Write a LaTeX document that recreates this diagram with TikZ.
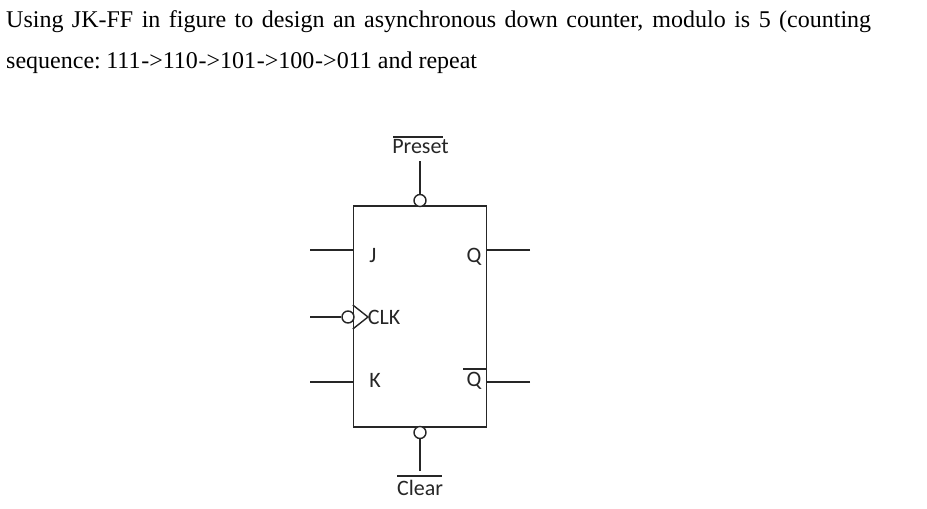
\documentclass[tikz,border=0pt]{standalone}
\usepackage{fontspec}
\setmainfont{Liberation Serif}
\newfontfamily\labelfont{Carlito}
\usetikzlibrary{positioning}
\tikzset{
  wire/.style={line width=1.4pt,black!85},
  ffbox/.style={draw,line width=1.4pt,black!85,minimum width=133pt,minimum height=221pt,inner sep=0pt},
  bubble/.style={draw,circle,line width=1.4pt,black!85,fill=white,minimum size=12pt,inner sep=0pt},
  pinlabel/.style={font=\labelfont\fontsize{22}{22}\selectfont,text=black!85,inner sep=0pt},
  question/.style={font=\fontsize{24}{24}\selectfont,inner sep=0pt,anchor=base west}
}
\begin{document}
\begin{tikzpicture}[x=1pt,y=-1pt]
\useasboundingbox (0,0) rectangle (927,509);
% question text
\node[question] (line1) at (6,27) {\makebox[865pt][s]{Using JK-FF in figure to design an asynchronous down counter, modulo is 5 (counting}};
\node[question] (line2) at (6,68) {sequence:\hspace{5.5pt}111\kern.75pt->110\kern.75pt->101\kern.75pt->100\kern.75pt->011 and repeat};
% flip flop
\node[ffbox] (ff) at (420,316.5) {};
\node[bubble] (presetdot) at (420,200.5) {};
\node[bubble] (cleardot) at (420,432.5) {};
\node[bubble] (clkdot) at (348,317) {};
\coordinate (presetend) at (420,161);
\coordinate (clearend) at (420,471);
\coordinate (jend) at (310,250);
\coordinate (kend) at (310,382);
\coordinate (clkend) at (310,317);
\coordinate (qend) at (530,250);
\coordinate (nqend) at (530,382);
\draw[wire] (presetend) -- (presetdot);
\draw[wire] (clearend) -- (cleardot);
\draw[wire] (jend) -- (jend -| ff.west);
\draw[wire] (kend) -- (kend -| ff.west);
\draw[wire] (clkend) -- (clkdot);
\draw[wire] (qend) -- (qend -| ff.east);
\draw[wire] (nqend) -- (nqend -| ff.east);
% clock triangle
\coordinate (clktip) at (368,317);
\draw[wire] (ff.west |- 0,305) -- (clktip) -- (ff.west |- 0,329);
% labels
\node[pinlabel] (jlab) at (373,255.5) {J};
\node[pinlabel] (qlab) at (474,256.5) {Q};
\node[pinlabel] (clklab) at (384,317.5) {CLK};
\node[pinlabel] (klab) at (375,380) {K};
\node[pinlabel] (nqlab) at (474,380.5) {Q};
\node[pinlabel] (presetlab) at (420.5,146.5) {Preset};
\node[pinlabel] (clearlab) at (420,487.5) {Clear};
% bars
\coordinate (nqbar) at (463,369);
\draw[wire] (nqbar) -- (nqbar -| ff.east);
\coordinate (presetbar) at (393,137);
\draw[wire] (presetbar) -- (443,137);
\coordinate (clearbar) at (397,476);
\draw[wire] (clearbar) -- (442,476);
\end{tikzpicture}
\end{document}
